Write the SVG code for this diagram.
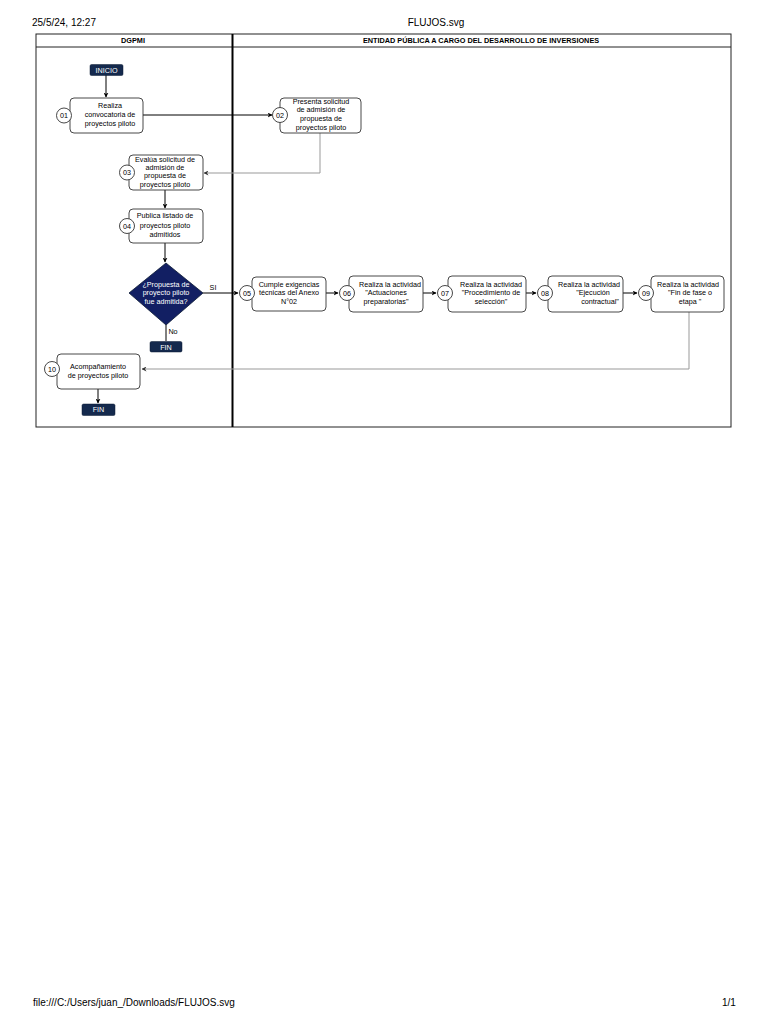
<svg xmlns="http://www.w3.org/2000/svg" width="768" height="1024" viewBox="0 0 768 1024">
<defs>
<marker id="arr" viewBox="0 0 10 10" refX="9" refY="5" markerWidth="5" markerHeight="5" orient="auto"><path d="M0,0 L10,5 L0,10 L3,5 z" fill="#000"/></marker>
<marker id="arrg" viewBox="0 0 10 10" refX="9" refY="5" markerWidth="5" markerHeight="5" orient="auto"><path d="M0,0 L10,5 L0,10 L3,5 z" fill="#333"/></marker>
<style>
.pg{font-family:"Liberation Sans",Arial,sans-serif;font-size:10px;fill:#000}
.hd{font-family:"Liberation Sans",Arial,sans-serif;font-size:7.3px;font-weight:bold;fill:#000;text-anchor:middle}
.t{font-family:"Liberation Sans",Arial,sans-serif;font-size:7.2px;fill:#000;text-anchor:middle}
.tw{font-family:"Liberation Sans",Arial,sans-serif;font-size:7.2px;fill:#fff;text-anchor:middle}
.box{fill:#fff;stroke:#333;stroke-width:0.9}
.circ{fill:#fff;stroke:#333;stroke-width:0.9}
.term{fill:#14294d;stroke:#0b1a33;stroke-width:0.5}
.ln{fill:none;stroke:#000;stroke-width:1}
.lg{fill:none;stroke:#999;stroke-width:1}
</style>
</defs>
<rect width="768" height="1024" fill="#fff"/>
<text class="pg" x="32" y="26">25/5/24, 12:27</text>
<text class="pg" x="436" y="26" text-anchor="middle">FLUJOS.svg</text>
<text class="pg" x="33" y="1006">file:///C:/Users/juan_/Downloads/FLUJOS.svg</text>
<text class="pg" x="722" y="1006">1/1</text>

<g id="pool">
<rect x="36" y="34" width="695" height="393" fill="#fff" stroke="#222" stroke-width="1"/>
<line x1="36" y1="47" x2="731" y2="47" stroke="#222" stroke-width="1"/>
<line x1="232.5" y1="34" x2="232.5" y2="427" stroke="#000" stroke-width="2"/>
<text class="hd" x="133" y="43">DGPMI</text>
<text class="hd" x="481" y="43">ENTIDAD PÚBLICA A CARGO DEL DESARROLLO DE INVERSIONES</text>
</g>

<g id="connectors">
<line class="ln" x1="106" y1="75" x2="106" y2="97" marker-end="url(#arr)"/>
<line class="ln" x1="143" y1="115" x2="272" y2="115" marker-end="url(#arr)"/>
<polyline class="lg" points="320,133 320,173 204,173" marker-end="url(#arrg)"/>
<line class="ln" x1="165" y1="190" x2="165" y2="208" marker-end="url(#arr)"/>
<line class="ln" x1="165" y1="243" x2="165" y2="262" marker-end="url(#arr)"/>
<line class="ln" x1="203" y1="293" x2="238" y2="293" marker-end="url(#arr)"/>
<line class="ln" x1="166" y1="325" x2="166" y2="341"/>
<line class="ln" x1="326" y1="293" x2="338" y2="293" marker-end="url(#arr)"/>
<line class="ln" x1="423" y1="293" x2="436" y2="293" marker-end="url(#arr)"/>
<line class="ln" x1="526" y1="293" x2="536" y2="293" marker-end="url(#arr)"/>
<line class="ln" x1="623" y1="293" x2="637" y2="293" marker-end="url(#arr)"/>
<polyline class="lg" points="689,312 689,369 142,369" marker-end="url(#arrg)"/>
<line class="ln" x1="98" y1="389" x2="98" y2="403" marker-end="url(#arr)"/>
<text class="t" x="213" y="290">SI</text>
<text class="t" x="173" y="334">No</text>
</g>

<g id="inicio">
<rect class="term" x="90" y="64.5" width="33" height="11" rx="1.5"/>
<text class="tw" x="106.5" y="72.5">INICIO</text>
</g>

<g id="n01">
<rect class="box" x="70" y="98" width="73" height="35" rx="4"/>
<circle class="circ" cx="64" cy="115.5" r="7.5"/>
<text class="t" x="64" y="118">01</text>
<text class="t" x="110" y="108">Realiza</text>
<text class="t" x="110" y="117">convocatoria de</text>
<text class="t" x="110" y="126">proyectos piloto</text>
</g>

<g id="n02">
<rect class="box" x="280" y="98" width="81" height="35" rx="4"/>
<circle class="circ" cx="280" cy="115" r="7.5"/>
<text class="t" x="280" y="117.5">02</text>
<text class="t" x="321" y="104">Presenta solicitud</text>
<text class="t" x="321" y="112">de admisión de</text>
<text class="t" x="321" y="121">propuesta de</text>
<text class="t" x="321" y="130">proyectos piloto</text>
</g>

<g id="n03">
<rect class="box" x="129" y="155" width="74" height="35" rx="4"/>
<circle class="circ" cx="127" cy="172.5" r="7.5"/>
<text class="t" x="127" y="175">03</text>
<text class="t" x="165" y="162">Evalúa solicitud de</text>
<text class="t" x="165" y="170">admisión de</text>
<text class="t" x="165" y="178">propuesta de</text>
<text class="t" x="165" y="187">proyectos piloto</text>
</g>

<g id="n04">
<rect class="box" x="129" y="209" width="74" height="34" rx="4"/>
<circle class="circ" cx="127" cy="226" r="7.5"/>
<text class="t" x="127" y="228.5">04</text>
<text class="t" x="165" y="218">Publica listado de</text>
<text class="t" x="165" y="228">proyectos piloto</text>
<text class="t" x="165" y="237">admitidos</text>
</g>

<g id="decision">
<polygon points="166,263 203,293 166,325 129,293" fill="#121f63" stroke="#0b1a33" stroke-width="0.8"/>
<text class="tw" x="166" y="287">¿Propuesta de</text>
<text class="tw" x="166" y="295">proyecto piloto</text>
<text class="tw" x="166" y="304">fue admitida?</text>
</g>

<g id="fin1">
<rect class="term" x="150" y="341.5" width="32" height="10.5" rx="1.5"/>
<text class="tw" x="166" y="349.5">FIN</text>
</g>

<g id="n05">
<rect class="box" x="252" y="277" width="74" height="34" rx="4"/>
<circle class="circ" cx="247" cy="293" r="7.5"/>
<text class="t" x="247" y="295.5">05</text>
<text class="t" x="289" y="287">Cumple exigencias</text>
<text class="t" x="289" y="295">técnicas del Anexo</text>
<text class="t" x="289" y="304">N°02</text>
</g>

<g id="n06">
<rect class="box" x="349" y="276" width="74" height="36" rx="4"/>
<circle class="circ" cx="347" cy="293" r="7.5"/>
<text class="t" x="347" y="295.5">06</text>
<text class="t" x="390" y="287">Realiza la actividad</text>
<text class="t" x="386" y="295">"Actuaciones</text>
<text class="t" x="386" y="304">preparatorias"</text>
</g>

<g id="n07">
<rect class="box" x="448" y="276" width="78" height="36" rx="4"/>
<circle class="circ" cx="445" cy="293" r="7.5"/>
<text class="t" x="445" y="295.5">07</text>
<text class="t" x="491" y="287">Realiza la actividad</text>
<text class="t" x="491" y="295">"Procedimiento de</text>
<text class="t" x="491" y="304">selección"</text>
</g>

<g id="n08">
<rect class="box" x="548" y="276" width="75" height="36" rx="4"/>
<circle class="circ" cx="545" cy="293" r="7.5"/>
<text class="t" x="545" y="295.5">08</text>
<text class="t" x="589" y="287">Realiza la actividad</text>
<text class="t" x="593" y="295">"Ejecución</text>
<text class="t" x="600" y="304">contractual"</text>
</g>

<g id="n09">
<rect class="box" x="651" y="276" width="73" height="36" rx="4"/>
<circle class="circ" cx="646" cy="293" r="7.5"/>
<text class="t" x="646" y="295.5">09</text>
<text class="t" x="688" y="287">Realiza la actividad</text>
<text class="t" x="690" y="295">"Fin de fase o</text>
<text class="t" x="690" y="304">etapa "</text>
</g>

<g id="n10">
<rect class="box" x="57" y="354" width="83" height="35" rx="4"/>
<circle class="circ" cx="52" cy="369" r="7.5"/>
<text class="t" x="52" y="371.5">10</text>
<text class="t" x="98" y="369">Acompañamiento</text>
<text class="t" x="98" y="378">de proyectos piloto</text>
</g>

<g id="fin2">
<rect class="term" x="82" y="404" width="33" height="11.5" rx="1.5"/>
<text class="tw" x="98.5" y="412">FIN</text>
</g>
</svg>
